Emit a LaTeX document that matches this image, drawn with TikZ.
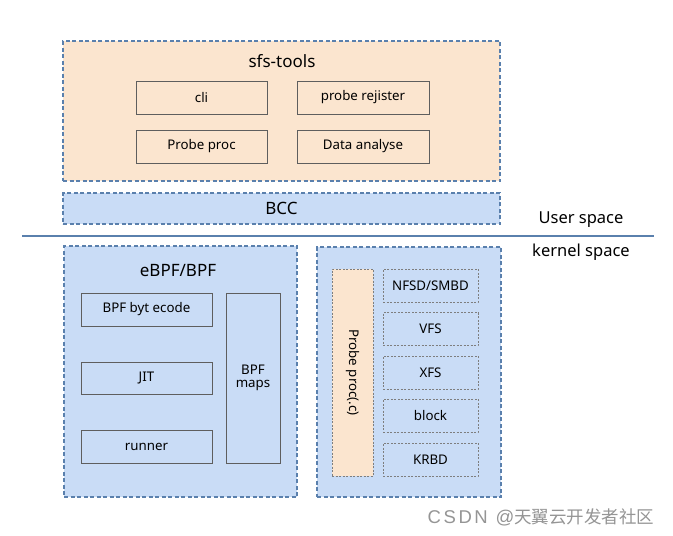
\documentclass[tikz,border=0pt]{standalone}
\usepackage{fontspec}
\setmainfont{Noto Sans}
\newfontfamily\cjk{Noto Sans CJK SC}
\newfontfamily\wmlatin{Liberation Sans}
\definecolor{peach}{HTML}{FBE5CF}
\definecolor{lblue}{HTML}{C9DCF6}
\definecolor{edgeblue}{HTML}{5A80AD}
\definecolor{boxgray}{HTML}{5E5E5E}
\definecolor{wmgray}{HTML}{959595}
\begin{document}
\begin{tikzpicture}[x=1pt,y=-1pt,
  region/.style={draw=edgeblue,line width=1.1pt,dash pattern=on 4pt off 2.5pt,inner sep=0pt},
  inbox/.style={draw=boxgray,line width=0.8pt,inner sep=0pt,font=\fontsize{13.3}{15}\selectfont},
  dbox/.style={draw=boxgray!80,line width=0.6pt,dash pattern=on 2pt off 1.5pt,inner sep=0pt,font=\fontsize{13.3}{15}\selectfont},
  title/.style={font=\fontsize{17}{20}\selectfont,inner sep=0pt},
  side/.style={font=\fontsize{16.5}{19}\selectfont,inner sep=0pt}]
\useasboundingbox[fill=white] (0,0) rectangle (673,536);
% user space
\node[region,fill=peach,minimum width=437pt,minimum height=140pt] (sfs) at (281.5,111) {};
\node[title] (sfst) at (282,61) {sfs-tools};
\node[inbox,fill=peach,minimum width=131pt,minimum height=33pt] (cli) at (201.5,97.5) {cli};
\node[inbox,fill=peach,minimum width=132pt,minimum height=33pt] (prej) at (363,97.5) {probe rejister};
\node[inbox,fill=peach,minimum width=131pt,minimum height=33pt] (pproc) at (201.5,146.5) {Probe proc};
\node[inbox,fill=peach,minimum width=132pt,minimum height=33pt] (data) at (363,146.5) {Data analyse};
\node[region,fill=lblue,minimum width=437pt,minimum height=31pt,title] (bcc) at (281.5,208.5) {BCC};
% divider
\coordinate (l0) at (22,236);
\coordinate (l1) at (654,236);
\draw[edgeblue,line width=1.3pt] (l0) -- (l1);
\node[side] (us) at (581,219.5) {User space};
\node[side] (ks) at (581,252) {kernel space};
% eBPF
\node[region,fill=lblue,minimum width=233pt,minimum height=251pt] (ebpf) at (180.5,371.5) {};
\node[title] (ebpft) at (178,271) {eBPF/BPF};
\node[inbox,fill=lblue,minimum width=131pt,minimum height=33pt] (byte) at (146.5,309.5) {BPF byt ecode};
\node[inbox,fill=lblue,minimum width=131pt,minimum height=32pt] (jit) at (146.5,378) {JIT};
\node[inbox,fill=lblue,minimum width=131pt,minimum height=33pt] (runner) at (146.5,446.5) {runner};
\node[inbox,fill=lblue,minimum width=54pt,minimum height=170pt,align=center] (maps) at (253,378) {BPF\\[-2pt]maps};
% kernel modules
\node[region,fill=lblue,minimum width=184pt,minimum height=250pt] (kern) at (409,372) {};
\node[dbox,fill=peach,minimum width=41pt,minimum height=207pt] (pc) at (352.5,372.5) {};
\node[font=\fontsize{13.3}{15}\selectfont,rotate=-90,inner sep=0pt] (pct) at (pc.center) {Probe proc(.c)};
\node[dbox,fill=lblue,minimum width=95pt,minimum height=33pt] (nfsd) at (430.5,285.5) {NFSD/SMBD};
\node[dbox,fill=lblue,minimum width=95pt,minimum height=33pt] (vfs) at (430.5,329) {VFS};
\node[dbox,fill=lblue,minimum width=95pt,minimum height=33pt] (xfs) at (430.5,372.5) {XFS};
\node[dbox,fill=lblue,minimum width=95pt,minimum height=33pt] (blk) at (430.5,415.5) {block};
\node[dbox,fill=lblue,minimum width=95pt,minimum height=33pt] (krbd) at (430.5,459.5) {KRBD};
% watermark
\node[text=wmgray,inner sep=0pt,font=\fontsize{17.5}{18}\selectfont] (wm) at (541,517) {{\wmlatin\fontsize{18.5}{18}\selectfont\addfontfeature{LetterSpace=14}CSDN @}{\cjk 天翼云开发者社区}};
\end{tikzpicture}
\end{document}
